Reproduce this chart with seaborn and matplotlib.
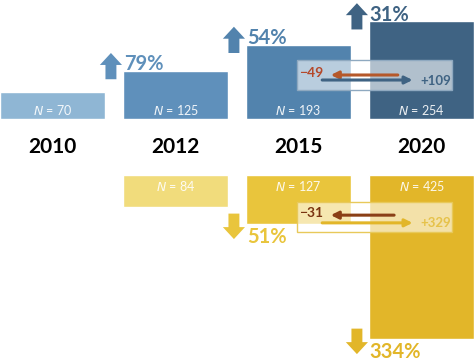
import numpy as np
import pandas as pd
import matplotlib
matplotlib.use("Agg")
import matplotlib.pyplot as plt
from matplotlib.patches import FancyArrow, Rectangle
import seaborn as sns

sns.set_style("white")
plt.rcParams['font.family'] = ['Lato', 'DejaVu Sans']
plt.rcParams['mathtext.fontset'] = 'custom'
plt.rcParams['mathtext.it'] = 'DejaVu Sans:italic'
plt.rcParams['mathtext.rm'] = 'Lato'

# data
years = ["2010", "2012", "2015", "2020"]
n_top = [70, 125, 193, 254]
years_bottom = ["2012", "2015", "2020"]
n_bottom = [84, 127, 425]
pct_top = ["79%", "54%", "31%"]
pct_bottom = ["51%", "334%"]
change_top = ["\u221249", "+109"]
change_bottom = ["\u221231", "+329"]

top_colors = {"2010": "#8fb6d4", "2012": "#5f90bb", "2015": "#5283ad", "2020": "#3f6383"}
bot_colors = {"2012": "#f1dc7c", "2015": "#e9c53c", "2020": "#e2b629"}

px = 0.386  # pixels per unit of N
W = 0.854
xlim = (-0.427, 3.427)

fig = plt.figure(figsize=(4.74, 3.61), dpi=100)
ax_t = fig.add_axes([0, (361 - 119) / 361, 1, 119 / 361])
ax_b = fig.add_axes([0, 0, 1, (361 - 175) / 361])

df_t = pd.DataFrame({"year": years, "n": n_top})
df_b = pd.DataFrame({"year": years_bottom, "n": n_bottom})

sns.barplot(data=df_t, x="year", y="n", hue="year", order=years, palette=top_colors,
            width=W, legend=False, saturation=1, ax=ax_t)
sns.barplot(data=df_b, x="year", y="n", hue="year", order=years, hue_order=years_bottom,
            palette=bot_colors, width=W, legend=False, saturation=1, ax=ax_b)

ax_t.set_xlim(xlim)
ax_t.set_ylim(0, 119 / px)
ax_b.set_xlim(xlim)
ax_b.set_ylim(186 / px, 0)
for a in (ax_t, ax_b):
    a.axis("off")

# N labels and years
for i, (y, n) in enumerate(zip(years, n_top)):
    ax_t.text(i, 23, f"$N$ = {n}", ha="center", va="center", color="white",
              fontsize=9, alpha=0.9)
    ax_t.text(i, -72, y, ha="center", va="center", fontsize=15, fontweight="bold",
              color="black", clip_on=False)
for y, n in zip(years_bottom, n_bottom):
    i = years.index(y)
    ax_b.text(i, 29, f"$N$ = {n}", ha="center", va="center", color="white",
              fontsize=9, alpha=0.9)

# growth arrows
for k, lab in enumerate(pct_top):
    i = k + 1
    n = n_top[i]
    c = top_colors[years[i]]
    ax_t.add_patch(FancyArrow(i - 0.525, n - 22, 0, 68, width=0.089, head_width=0.18,
                              head_length=31, length_includes_head=True, color=c,
                              lw=0, clip_on=False))
    ax_t.text(i - 0.42, n + 1, lab, ha="left", va="baseline", fontsize=14.5,
              fontweight="bold", color=c, clip_on=False)

for k, lab in enumerate(pct_bottom):
    i = k + 2
    n = n_bottom[k + 1]
    c = bot_colors[years[i]]
    ax_b.add_patch(FancyArrow(i - 0.525, n - 27, 0, 66, width=0.089, head_width=0.18,
                              head_length=31, length_includes_head=True, color=c,
                              lw=0, clip_on=False))
    ax_b.text(i - 0.42, n + 8, lab, ha="left", va="top", fontsize=14.5,
              fontweight="bold", color=c, clip_on=False)

# change boxes
x0, x1 = -0.427 + 297 / 123, -0.427 + 452 / 123
ax_t.add_patch(Rectangle((x0, 75), x1 - x0, 78, facecolor="white", alpha=0.6,
                         edgecolor="none", zorder=3))
ax_t.add_patch(Rectangle((x0, 75), x1 - x0, 78, facecolor="none",
                         edgecolor="#8fa9c0", lw=1, zorder=3))
ax_t.annotate("", xy=(2.24, 114), xytext=(2.83, 114),
              arrowprops=dict(arrowstyle="-|>", color="#b5582a", lw=2.2, mutation_scale=11),
              zorder=4)
ax_t.annotate("", xy=(2.95, 101), xytext=(2.17, 101),
              arrowprops=dict(arrowstyle="-|>", color="#3f6383", lw=2.2, mutation_scale=11),
              zorder=4)
ax_t.text(x0 + 0.02, 119, change_top[0], ha="left", va="center", fontsize=10,
          fontweight="bold", color="#b5482a", zorder=5)
ax_t.text(2.99, 98, change_top[1], ha="left", va="center", fontsize=9.5,
          fontweight="bold", color="#3f6383", zorder=5)

ax_b.add_patch(Rectangle((x0, 70), x1 - x0, 78, facecolor="white", alpha=0.6,
                         edgecolor="none", zorder=3))
ax_b.add_patch(Rectangle((x0, 70), x1 - x0, 78, facecolor="none",
                         edgecolor="#e8c95a", lw=1, zorder=3))
ax_b.annotate("", xy=(2.24, 104), xytext=(2.8, 104),
              arrowprops=dict(arrowstyle="-|>", color="#8a3f16", lw=2.2, mutation_scale=11),
              zorder=4)
ax_b.annotate("", xy=(2.95, 124), xytext=(2.17, 124),
              arrowprops=dict(arrowstyle="-|>", color="#e2b629", lw=2.2, mutation_scale=11),
              zorder=4)
ax_b.text(x0 + 0.02, 98, change_bottom[0], ha="left", va="center", fontsize=10,
          fontweight="bold", color="#7a3410", zorder=5)
ax_b.text(2.99, 124, change_bottom[1], ha="left", va="center", fontsize=9.5,
          fontweight="bold", color="#e6c24a", zorder=5)

fig.savefig("out.png", dpi=100)
